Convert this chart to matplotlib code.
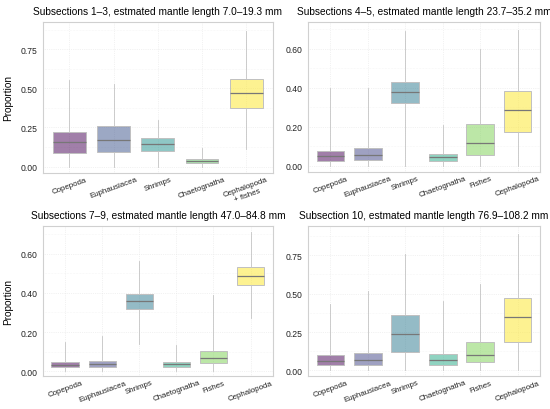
import numpy as np
import matplotlib
matplotlib.use("Agg")
import matplotlib.pyplot as plt
from matplotlib.ticker import MultipleLocator, FormatStrFormatter

plt.rcParams['font.family'] = ['Liberation Sans', 'DejaVu Sans']

# Panel titles
titles = [
    "Subsections 1\u20133, estmated mantle length 7.0\u201319.3 mm",
    "Subsections 4\u20135, estmated mantle length 23.7\u201335.2 mm",
    "Subsections 7\u20139, estmated mantle length 47.0\u201384.8 mm",
    "Subsection 10, estmated mantle length 76.9\u2013108.2 mm",
]

cats_1 = ["Copepoda", "Euphausiacea", "Shrimps", "Chaetognatha", "Cephalopoda\n+ fishes"]
cats_6 = ["Copepoda", "Euphausiacea", "Shrimps", "Chaetognatha", "Fishes", "Cephalopoda"]

colors_5 = ["#440154", "#3b528b", "#21908d", "#5dc863", "#fde725"]
colors_6 = ["#440154", "#414487", "#2a788e", "#22a884", "#7ad151", "#fde725"]

# box statistics per panel: whisker low, q1, median, q3, whisker high
lo_1 = [0.0, 0.0, 0.0, 0.0, 0.11]
q1_1 = [0.089, 0.096, 0.102, 0.021, 0.374]
med_1 = [0.155, 0.170, 0.142, 0.034, 0.467]
q3_1 = [0.219, 0.260, 0.180, 0.047, 0.561]
hi_1 = [0.55, 0.53, 0.30, 0.12, 0.867]

lo_2 = [0.0, 0.0, 0.0, 0.0, 0.0, 0.0]
q1_2 = [0.026, 0.031, 0.323, 0.024, 0.058, 0.174]
med_2 = [0.051, 0.056, 0.379, 0.044, 0.120, 0.287]
q3_2 = [0.079, 0.094, 0.431, 0.062, 0.217, 0.385]
hi_2 = [0.40, 0.40, 0.69, 0.21, 0.60, 0.696]

lo_3 = [0.0, 0.0, 0.14, 0.0, 0.0, 0.27]
q1_3 = [0.020, 0.024, 0.316, 0.022, 0.041, 0.438]
med_3 = [0.032, 0.037, 0.358, 0.035, 0.068, 0.487]
q3_3 = [0.047, 0.054, 0.395, 0.047, 0.103, 0.531]
hi_3 = [0.15, 0.18, 0.56, 0.135, 0.39, 0.71]

lo_4 = [0.0, 0.0, 0.0, 0.0, 0.0, 0.0]
q1_4 = [0.032, 0.036, 0.119, 0.036, 0.053, 0.187]
med_4 = [0.058, 0.070, 0.234, 0.070, 0.102, 0.345]
q3_4 = [0.098, 0.111, 0.362, 0.104, 0.183, 0.473]
hi_4 = [0.43, 0.52, 0.76, 0.45, 0.56, 0.89]

panels = [
    (cats_1, colors_5, lo_1, q1_1, med_1, q3_1, hi_1, (-0.04, 0.924), 0.25),
    (cats_6, colors_6, lo_2, q1_2, med_2, q3_2, hi_2, (-0.031, 0.738), 0.20),
    (cats_6, colors_6, lo_3, q1_3, med_3, q3_3, hi_3, (-0.025, 0.74), 0.20),
    (cats_6, colors_6, lo_4, q1_4, med_4, q3_4, hi_4, (-0.038, 0.94), 0.25),
]

positions = [
    [0.078, 0.576, 0.418, 0.368],
    [0.560, 0.578, 0.422, 0.366],
    [0.078, 0.080, 0.418, 0.366],
    [0.560, 0.080, 0.422, 0.366],
]

fig = plt.figure(figsize=(5.5, 4.1), dpi=100)

for i, (cats, cols, lo, q1, med, q3, hi, ylim, step) in enumerate(panels):
    ax = fig.add_axes(positions[i])
    stats = []
    for j in range(len(cats)):
        stats.append(dict(whislo=lo[j], q1=q1[j], med=med[j], q3=q3[j],
                          whishi=hi[j], fliers=[]))
    bp = ax.bxp(stats, positions=range(len(cats)), widths=0.74,
                patch_artist=True, showcaps=False,
                whiskerprops=dict(color="#c4c4c4", lw=0.6),
                medianprops=dict(color="#777777", lw=0.9),
                boxprops=dict(edgecolor="#c0c0c0", lw=0.7))
    for patch, c in zip(bp["boxes"], cols):
        patch.set_facecolor(matplotlib.colors.to_rgba(c, 0.5))
    ax.set_xlim(-0.6, len(cats) - 0.4)
    ax.set_ylim(*ylim)
    ax.yaxis.set_major_locator(MultipleLocator(step))
    ax.yaxis.set_minor_locator(MultipleLocator(step / 2))
    ax.yaxis.set_major_formatter(FormatStrFormatter("%.2f"))
    ax.set_xticks(range(len(cats)))
    ax.set_xticklabels(cats, rotation=20, fontsize=5.7, ha="center",
                       color="#222222")
    ax.tick_params(axis="y", labelsize=6.2, length=0, pad=4,
                   labelcolor="#222222")
    ax.tick_params(axis="x", length=0, pad=2)
    ax.tick_params(which="minor", length=0)
    ax.grid(True, which="major", color="#e6e6e6", lw=0.5, ls=":")
    ax.grid(True, which="minor", axis="y", color="#eeeeee", lw=0.4, ls=":")
    ax.set_axisbelow(True)
    for s in ax.spines.values():
        s.set_color("#d0d0d0")
        s.set_linewidth(0.8)
    ax.set_title(titles[i], fontsize=7.3, pad=6)
    if i % 2 == 0:
        ax.set_ylabel("Proportion", fontsize=7.2, labelpad=5)

fig.savefig("out.png", dpi=100)
